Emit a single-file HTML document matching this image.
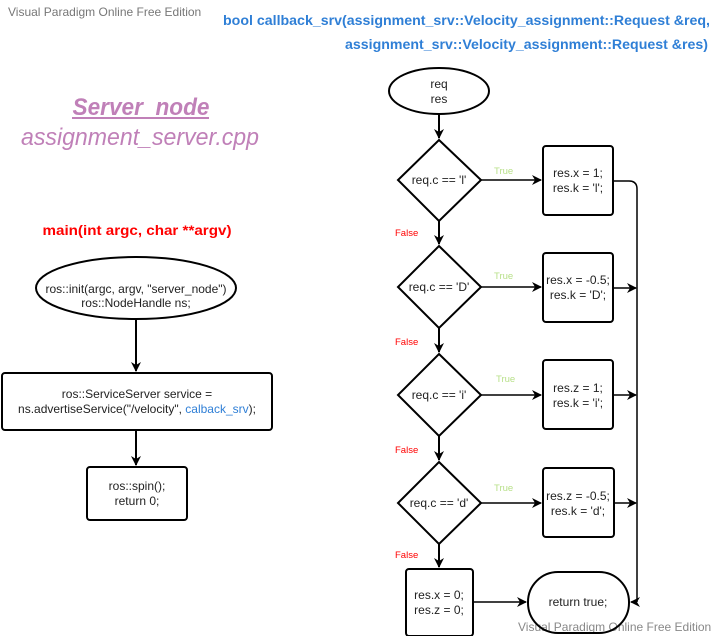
<!DOCTYPE html>
<html><head><meta charset="utf-8"><style>body{margin:0;background:#fff}svg{display:block}</style></head><body>
<svg width="717" height="636" viewBox="0 0 717 636" xmlns="http://www.w3.org/2000/svg" font-family="Liberation Sans, sans-serif">
<defs><marker id="a" markerWidth="10" markerHeight="10" refX="9" refY="5" orient="auto" markerUnits="userSpaceOnUse"><path d="M0,0 L10,5 L0,10 L3,5 Z" fill="#000"/></marker></defs>
<text x="8" y="16" font-size="12" fill="#777">Visual Paradigm Online Free Edition</text>
<text x="518" y="631" font-size="12" fill="#888">Visual Paradigm Online Free Edition</text>
<g font-weight="bold" font-size="13.5" fill="#2f7fd6" text-anchor="end">
<text x="710" y="25" textLength="487" lengthAdjust="spacingAndGlyphs">bool callback_srv(assignment_srv::Velocity_assignment::Request &amp;req,</text>
<text x="708" y="49" textLength="363" lengthAdjust="spacingAndGlyphs">assignment_srv::Velocity_assignment::Request &amp;res)</text>
</g>
<g fill="#c080b8" font-style="italic" text-anchor="middle" font-size="24">
<text x="141" y="115" font-weight="bold" textLength="137" lengthAdjust="spacingAndGlyphs">Server_node</text>
<line x1="72" y1="118" x2="209" y2="118" stroke="#c080b8" stroke-width="2"/>
<text x="140" y="145" textLength="238" lengthAdjust="spacingAndGlyphs">assignment_server.cpp</text>
</g>
<text x="137" y="235" font-size="14" font-weight="bold" fill="#f00" text-anchor="middle" textLength="189" lengthAdjust="spacingAndGlyphs">main(int argc, char **argv)</text>
<g stroke="#000" stroke-width="2" fill="none">
<ellipse cx="136" cy="288" rx="100" ry="31"/>
<rect x="2" y="373" width="270" height="57" rx="3"/>
<rect x="87" y="467" width="100" height="53" rx="3"/>
<line x1="136" y1="319" x2="136" y2="371" marker-end="url(#a)"/>
<line x1="136" y1="430" x2="136" y2="465" marker-end="url(#a)"/>
<ellipse cx="439" cy="91" rx="50" ry="23"/>
<path d="M439,140 L481,180 L439,221 L398,180 Z"/>
<path d="M439,246 L481,287 L439,328 L398,287 Z"/>
<path d="M439,354 L481,395 L439,436 L398,395 Z"/>
<path d="M439,462 L481,503 L439,544 L398,503 Z"/>
<rect x="543" y="146" width="70" height="69" rx="3"/>
<rect x="543" y="253" width="70" height="69" rx="3"/>
<rect x="543" y="360" width="70" height="69" rx="3"/>
<rect x="543" y="468" width="71" height="69" rx="3"/>
<rect x="406" y="569" width="67" height="67" rx="3"/>
<rect x="528" y="572" width="101" height="61" rx="30"/>
<line x1="439" y1="114" x2="439" y2="138" marker-end="url(#a)"/>
<line x1="439" y1="221" x2="439" y2="244" marker-end="url(#a)"/>
<line x1="439" y1="328" x2="439" y2="352" marker-end="url(#a)"/>
<line x1="439" y1="436" x2="439" y2="460" marker-end="url(#a)"/>
<line x1="439" y1="544" x2="439" y2="567" marker-end="url(#a)"/>
<g stroke-width="1.5">
<line x1="481" y1="180" x2="541" y2="180" marker-end="url(#a)"/>
<line x1="481" y1="287" x2="541" y2="287" marker-end="url(#a)"/>
<line x1="481" y1="395" x2="541" y2="395" marker-end="url(#a)"/>
<line x1="481" y1="503" x2="541" y2="503" marker-end="url(#a)"/>
<path d="M613,181 L629,181 Q637,181 637,189 L637,602" />
<line x1="637" y1="602" x2="631" y2="602" marker-end="url(#a)"/>
<line x1="613" y1="288" x2="636" y2="288" marker-end="url(#a)"/>
<line x1="613" y1="395" x2="636" y2="395" marker-end="url(#a)"/>
<line x1="614" y1="503" x2="636" y2="503" marker-end="url(#a)"/>
<line x1="473" y1="602" x2="526" y2="602" marker-end="url(#a)"/>
</g>
</g>
<g font-size="12" fill="#222" text-anchor="middle">
<text x="136" y="293">ros::init(argc, argv, "server_node")</text>
<text x="136" y="307">ros::NodeHandle ns;</text>
<text x="137" y="398">ros::ServiceServer service =</text>
<text x="137" y="413">ns.advertiseService("/velocity", <tspan fill="#2f7fd6">calback_srv</tspan>);</text>
<text x="137" y="490">ros::spin();</text>
<text x="137" y="505">return 0;</text>
<text x="439" y="88">req</text><text x="439" y="103">res</text>
<text x="439" y="184">req.c == 'l'</text>
<text x="439" y="291">req.c == 'D'</text>
<text x="439" y="399">req.c == 'i'</text>
<text x="439" y="507">req.c == 'd'</text>
<text x="578" y="177">res.x = 1;</text><text x="578" y="192">res.k = 'l';</text>
<text x="578" y="284">res.x = -0.5;</text><text x="578" y="299">res.k = 'D';</text>
<text x="578" y="392">res.z = 1;</text><text x="578" y="407">res.k = 'i';</text>
<text x="578" y="500">res.z = -0.5;</text><text x="578" y="515">res.k = 'd';</text>
<text x="439" y="599">res.x = 0;</text><text x="439" y="614">res.z = 0;</text>
<text x="578" y="606">return true;</text>
</g>
<g font-size="9.5">
<g fill="#b8e08a">
<text x="494" y="174">True</text><text x="494" y="279">True</text><text x="496" y="382">True</text><text x="494" y="491">True</text>
</g>
<g fill="#f00">
<text x="395" y="236">False</text><text x="395" y="345">False</text><text x="395" y="453">False</text><text x="395" y="558">False</text>
</g>
</g>
</svg>
</body></html>
